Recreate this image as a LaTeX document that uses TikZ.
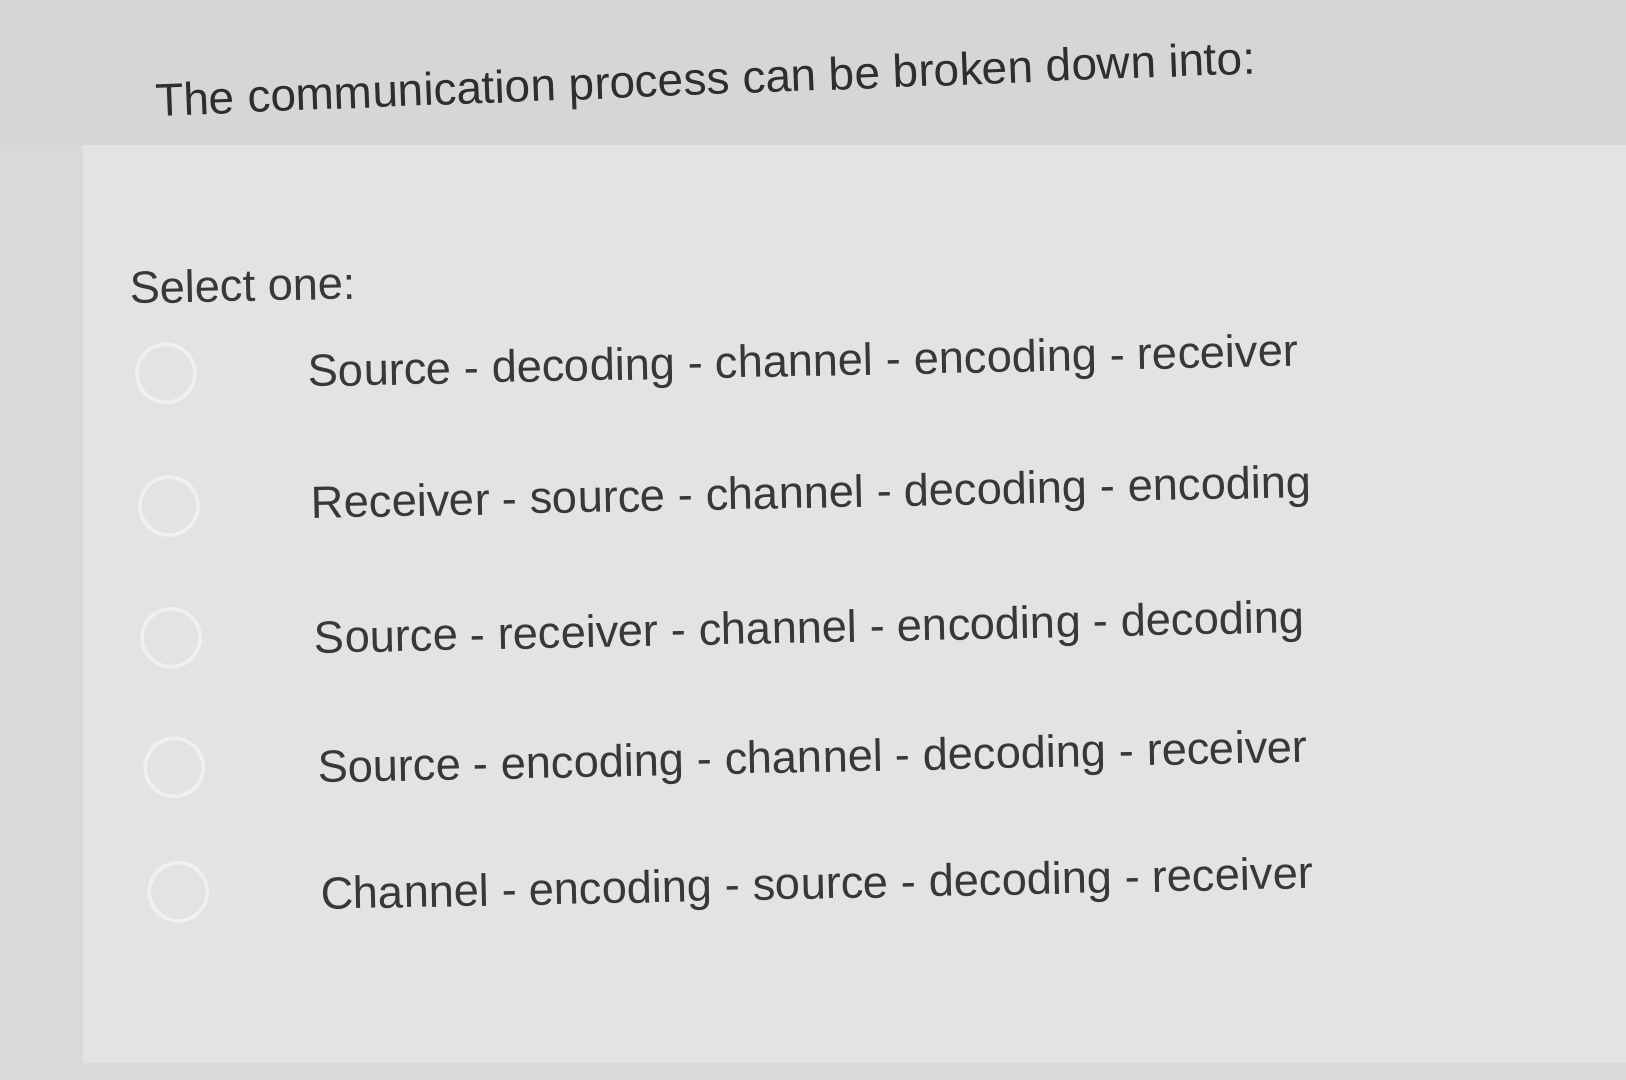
\documentclass[tikz,border=0pt]{standalone}
\usepackage{fontspec}
\setmainfont{Liberation Sans}
\begin{document}
\begin{tikzpicture}[x=0.01cm,y=-0.01cm,
  opt/.style={anchor=base west,inner sep=0pt,text=black!78,font=\fontsize{12.4pt}{14pt}\selectfont,rotate=1.2},
  radio/.style={circle,draw=black!6,line width=1pt,minimum size=0.56cm,inner sep=0pt}]
\useasboundingbox (0,0) rectangle (1568,1041);
\fill[black!15] (0,0) rectangle (1568,1041);
\fill[black!11] (80,140) rectangle (1568,1025);
\fill[black!16] (0,0) rectangle (1568,140);
\node[opt,text=black!82,rotate=1.0,font=\fontsize{12.6pt}{14pt}\selectfont] (title) at (150,112) {The communication process can be broken down into:};
\node[opt] (sel) at (125,293) {Select one:};
\node[radio] (r1) at (160,360) {};
\node[radio] (r2) at (163,488) {};
\node[radio] (r3) at (165,615) {};
\node[radio] (r4) at (168,740) {};
\node[radio] (r5) at (172,860) {};
\node[opt] (o1) at (297,373) {Source - decoding - channel - encoding - receiver};
\node[opt] (o2) at (300,500) {Receiver - source - channel - decoding - encoding};
\node[opt] (o3) at (303,630) {Source - receiver - channel - encoding - decoding};
\node[opt] (o4) at (306,755) {Source - encoding - channel - decoding - receiver};
\node[opt] (o5) at (309,877) {Channel - encoding - source - decoding - receiver};
\end{tikzpicture}
\end{document}
